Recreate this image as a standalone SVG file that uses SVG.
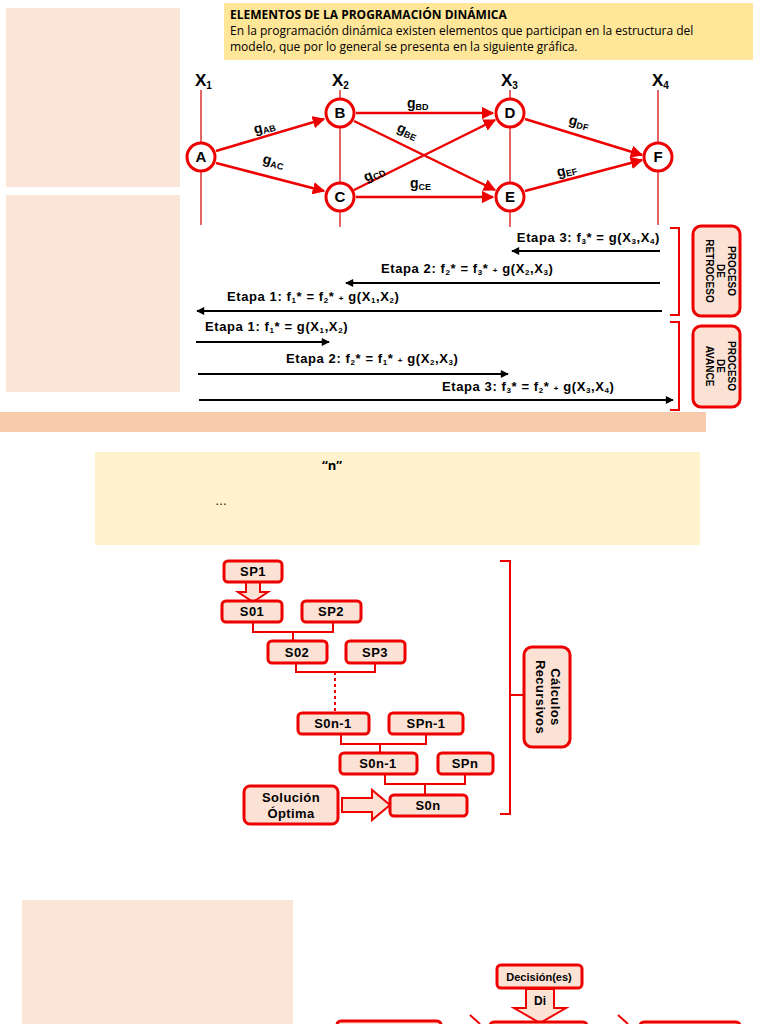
<svg xmlns="http://www.w3.org/2000/svg" width="768" height="1024" viewBox="0 0 768 1024">
<style>
text{font-family:"Liberation Sans",Arial,sans-serif;font-weight:bold;fill:#000}
.n{fill:#fff;stroke:#e00;stroke-width:3}
.v{stroke:#d33;stroke-width:1.5}
.e{stroke:#e00;stroke-width:2.5;fill:none;marker-end:url(#ra)}
.k{stroke:#000;stroke-width:2;fill:none}
.bx{fill:#fbe2d5;stroke:#e00;stroke-width:3}
.c{stroke:#e00;stroke-width:2;fill:none}
.nl{font-size:15px;text-anchor:middle}
.g{font-size:14px}
.et{font-size:13px;letter-spacing:0.6px}
.bt{font-size:13px;text-anchor:middle;letter-spacing:0.4px}
</style>
<defs>
<marker id="ra" viewBox="0 0 10 10" refX="9" refY="5" markerWidth="5" markerHeight="5" orient="auto"><path d="M0,0L10,5L0,10z" fill="#e00"/></marker>
<marker id="ka" viewBox="0 0 10 10" refX="9" refY="5" markerWidth="5" markerHeight="4" orient="auto"><path d="M0,0L10,5L0,10z" fill="#000"/></marker>
</defs>
<g id="backgrounds">
<rect x="6" y="8" width="174" height="179" fill="#fbe5d6"/>
<rect x="6" y="195" width="174" height="197" fill="#fbe5d6"/>
<rect x="0" y="412" width="706" height="20" fill="#f8cbad"/>
<rect x="95" y="452" width="605" height="93" fill="#fff2cc"/>
<rect x="22" y="900" width="271" height="124" fill="#fbe5d6"/>
</g>
<g id="header">
<rect x="224" y="3" width="529" height="57" fill="#ffe699"/>
<text x="230" y="19" style="font-family:'Open Sans','Liberation Sans',sans-serif;font-size:12px;font-weight:bold">ELEMENTOS DE LA PROGRAMACIÓN DINÁMICA</text>
<text x="230" y="35" style="font-family:'Open Sans','Liberation Sans',sans-serif;font-size:12px;font-weight:normal">En la programación dinámica existen elementos que participan en la estructura del</text>
<text x="230" y="51" style="font-family:'Open Sans','Liberation Sans',sans-serif;font-size:12px;font-weight:normal">modelo, que por lo general se presenta en la siguiente gráfica.</text>
</g>
<g id="stage-lines">
<line class="v" x1="201" y1="90" x2="201" y2="225"/>
<line class="v" x1="340" y1="90" x2="340" y2="227"/>
<line class="v" x1="510" y1="90" x2="510" y2="227"/>
<line class="v" x1="658" y1="90" x2="658" y2="225"/>
<text x="195" y="86" font-size="17">X<tspan font-size="10" dy="3">1</tspan></text>
<text x="332" y="86" font-size="17">X<tspan font-size="10" dy="3">2</tspan></text>
<text x="501" y="86" font-size="17">X<tspan font-size="10" dy="3">3</tspan></text>
<text x="652" y="86" font-size="17">X<tspan font-size="10" dy="3">4</tspan></text>
</g>
<g id="connectors">
<line class="e" x1="216" y1="151" x2="324" y2="119"/>
<line class="e" x1="216" y1="163" x2="324" y2="191"/>
<line class="e" x1="356" y1="113" x2="493" y2="113"/>
<line class="e" x1="354" y1="121" x2="495" y2="190"/>
<line class="e" x1="354" y1="190" x2="495" y2="120"/>
<line class="e" x1="356" y1="197" x2="493" y2="197"/>
<line class="e" x1="525" y1="119" x2="642" y2="155"/>
<line class="e" x1="525" y1="191" x2="642" y2="160"/>
<text class="g" x="255" y="134" transform="rotate(-14 255 134)">g<tspan font-size="9" dy="2">AB</tspan></text>
<text class="g" x="262" y="163" transform="rotate(14 262 163)">g<tspan font-size="9" dy="2">AC</tspan></text>
<text class="g" x="407" y="108">g<tspan font-size="9" dy="2">BD</tspan></text>
<text class="g" x="396" y="131" transform="rotate(24 396 131)">g<tspan font-size="9" dy="2">BE</tspan></text>
<text class="g" x="366" y="182" transform="rotate(-24 366 182)">g<tspan font-size="9" dy="2">CD</tspan></text>
<text class="g" x="410" y="188">g<tspan font-size="9" dy="2">CE</tspan></text>
<text class="g" x="568" y="124" transform="rotate(14 568 124)">g<tspan font-size="9" dy="2">DF</tspan></text>
<text class="g" x="558" y="177" transform="rotate(-14 558 177)">g<tspan font-size="9" dy="2">EF</tspan></text>
</g>
<g id="node-A"><circle class="n" cx="201" cy="157" r="14"/><text class="nl" x="201" y="162">A</text></g>
<g id="node-B"><circle class="n" cx="340" cy="113" r="14"/><text class="nl" x="340" y="118">B</text></g>
<g id="node-C"><circle class="n" cx="340" cy="197" r="14"/><text class="nl" x="340" y="202">C</text></g>
<g id="node-D"><circle class="n" cx="510" cy="113" r="14"/><text class="nl" x="510" y="118">D</text></g>
<g id="node-E"><circle class="n" cx="510" cy="197" r="14"/><text class="nl" x="510" y="202">E</text></g>
<g id="node-F"><circle class="n" cx="658" cy="157" r="14"/><text class="nl" x="658" y="162">F</text></g>
<g id="stages">
<line class="k" x1="660" y1="251" x2="512" y2="251" marker-end="url(#ka)"/>
<text class="et" x="660" y="242" text-anchor="end">Etapa 3: f<tspan font-size="8" dy="2">3</tspan><tspan dy="-2">* = g(X</tspan><tspan font-size="8" dy="2">3</tspan><tspan dy="-2">,X</tspan><tspan font-size="8" dy="2">4</tspan><tspan dy="-2">)</tspan></text>
<line class="k" x1="660" y1="283" x2="346" y2="283" marker-end="url(#ka)"/>
<text class="et" x="381" y="273">Etapa 2: f<tspan font-size="8" dy="2">2</tspan><tspan dy="-2">* = f</tspan><tspan font-size="8" dy="2">3</tspan><tspan dy="-2">* </tspan><tspan font-size="8">+</tspan> g(X<tspan font-size="8" dy="2">2</tspan><tspan dy="-2">,X</tspan><tspan font-size="8" dy="2">3</tspan><tspan dy="-2">)</tspan></text>
<line class="k" x1="662" y1="311" x2="197" y2="311" marker-end="url(#ka)"/>
<text class="et" x="227" y="301">Etapa 1: f<tspan font-size="8" dy="2">1</tspan><tspan dy="-2">* = f</tspan><tspan font-size="8" dy="2">2</tspan><tspan dy="-2">* </tspan><tspan font-size="8">+</tspan> g(X<tspan font-size="8" dy="2">1</tspan><tspan dy="-2">,X</tspan><tspan font-size="8" dy="2">2</tspan><tspan dy="-2">)</tspan></text>
<text class="et" x="205" y="331">Etapa 1: f<tspan font-size="8" dy="2">1</tspan><tspan dy="-2">* = g(X</tspan><tspan font-size="8" dy="2">1</tspan><tspan dy="-2">,X</tspan><tspan font-size="8" dy="2">2</tspan><tspan dy="-2">)</tspan></text>
<line class="k" x1="196" y1="342" x2="329" y2="342" marker-end="url(#ka)"/>
<text class="et" x="286" y="363">Etapa 2: f<tspan font-size="8" dy="2">2</tspan><tspan dy="-2">* = f</tspan><tspan font-size="8" dy="2">1</tspan><tspan dy="-2">* </tspan><tspan font-size="8">+</tspan> g(X<tspan font-size="8" dy="2">2</tspan><tspan dy="-2">,X</tspan><tspan font-size="8" dy="2">3</tspan><tspan dy="-2">)</tspan></text>
<line class="k" x1="198" y1="374" x2="508" y2="374" marker-end="url(#ka)"/>
<text class="et" x="442" y="391">Etapa 3: f<tspan font-size="8" dy="2">3</tspan><tspan dy="-2">* = f</tspan><tspan font-size="8" dy="2">2</tspan><tspan dy="-2">* </tspan><tspan font-size="8">+</tspan> g(X<tspan font-size="8" dy="2">3</tspan><tspan dy="-2">,X</tspan><tspan font-size="8" dy="2">4</tspan><tspan dy="-2">)</tspan></text>
<line class="k" x1="199" y1="400" x2="673" y2="400" marker-end="url(#ka)"/>
</g>
<g id="retroceso">
<path class="c" d="M670,228H679V315H670"/>
<rect class="bx" x="693" y="226" width="47" height="90" rx="8"/>
<text font-size="10" text-anchor="middle" transform="translate(716.5 271) rotate(90)"><tspan x="0" y="-11">PROCESO</tspan><tspan x="0" y="0">DE</tspan><tspan x="0" y="11">RETROCESO</tspan></text>
</g>
<g id="avance">
<path class="c" d="M670,322H679V410H670"/>
<rect class="bx" x="693" y="326" width="47" height="81" rx="8"/>
<text font-size="10" text-anchor="middle" transform="translate(716.5 366) rotate(90)"><tspan x="0" y="-11">PROCESO</tspan><tspan x="0" y="0">DE</tspan><tspan x="0" y="11">AVANCE</tspan></text>
</g>
<g id="note">
<text x="332" y="470" font-size="13" text-anchor="middle" style="font-family:'Open Sans','Liberation Sans',sans-serif">“n”</text>
<text x="221" y="505" font-size="12" text-anchor="middle" style="font-weight:normal">…</text>
</g>
<g id="recursion-links">
<path d="M246,582V592H238L253,602L268,592H260V582Z" fill="#fbe2d5" stroke="#e00" stroke-width="2"/>
<path class="c" d="M253,622V632H333V622M293,632V641"/>
<path class="c" d="M296,663V672H375V663"/>
<path d="M335,672V712" stroke="#e00" stroke-width="2" stroke-dasharray="3,3"/>
<path class="c" d="M341,734V744H426V734M380,744V753"/>
<path class="c" d="M385,774V784H465V774M425,784V795"/>
<path d="M342,798H372V790L390,805L372,820V812H342Z" fill="#fbe2d5" stroke="#e00" stroke-width="2"/>
<path class="c" d="M500,561H510V814H500M510,695H524"/>
</g>
<g id="sp1"><rect class="bx" x="224" y="561" width="58" height="21" rx="4"/><text class="bt" x="253" y="576">SP1</text></g>
<g id="s01"><rect class="bx" x="222" y="601" width="60" height="21" rx="4"/><text class="bt" x="252" y="616">S01</text></g>
<g id="sp2"><rect class="bx" x="302" y="601" width="59" height="21" rx="4"/><text class="bt" x="331" y="616">SP2</text></g>
<g id="s02"><rect class="bx" x="268" y="641" width="59" height="22" rx="4"/><text class="bt" x="297" y="657">S02</text></g>
<g id="sp3"><rect class="bx" x="346" y="641" width="59" height="22" rx="4"/><text class="bt" x="375" y="657">SP3</text></g>
<g id="s0n-1a"><rect class="bx" x="298" y="713" width="71" height="21" rx="4"/><text class="bt" x="333" y="728">S0n-1</text></g>
<g id="spn-1"><rect class="bx" x="389" y="713" width="74" height="21" rx="4"/><text class="bt" x="426" y="728">SPn-1</text></g>
<g id="s0n-1b"><rect class="bx" x="340" y="753" width="77" height="21" rx="4"/><text class="bt" x="378" y="768">S0n-1</text></g>
<g id="spn"><rect class="bx" x="438" y="753" width="55" height="21" rx="4"/><text class="bt" x="465" y="768">SPn</text></g>
<g id="s0n"><rect class="bx" x="390" y="795" width="77" height="21" rx="4"/><text class="bt" x="428" y="810">S0n</text></g>
<g id="solucion"><rect class="bx" x="244" y="786" width="94" height="38" rx="6"/><text class="bt" x="291" y="802">Solución</text><text class="bt" x="291" y="818">Óptima</text></g>
<g id="calculos"><rect class="bx" x="524" y="647" width="46" height="100" rx="8"/><text class="bt" transform="translate(547 697) rotate(90)"><tspan x="0" y="-4">Cálculos</tspan><tspan x="0" y="11">Recursivos</tspan></text></g>
<g id="decision"><rect class="bx" x="497" y="965" width="85" height="23" rx="4"/><text x="539" y="981" font-size="11" text-anchor="middle">Decisión(es)</text>
<path d="M526,989V1008H514L540,1023L566,1008H554V989Z" fill="#fbe2d5" stroke="#e00" stroke-width="2"/><text x="540" y="1005" font-size="12" text-anchor="middle">Di</text></g>
<g id="bottom-partial">
<rect class="bx" x="337" y="1021" width="104" height="12" rx="4"/>
<rect class="bx" x="490" y="1022" width="97" height="12" rx="4"/>
<rect class="bx" x="640" y="1022" width="100" height="12" rx="4"/>
<path d="M470,1015L480,1024" stroke="#e00" stroke-width="2"/>
<path d="M618,1015L628,1024" stroke="#e00" stroke-width="2"/>
</g>
</svg>
